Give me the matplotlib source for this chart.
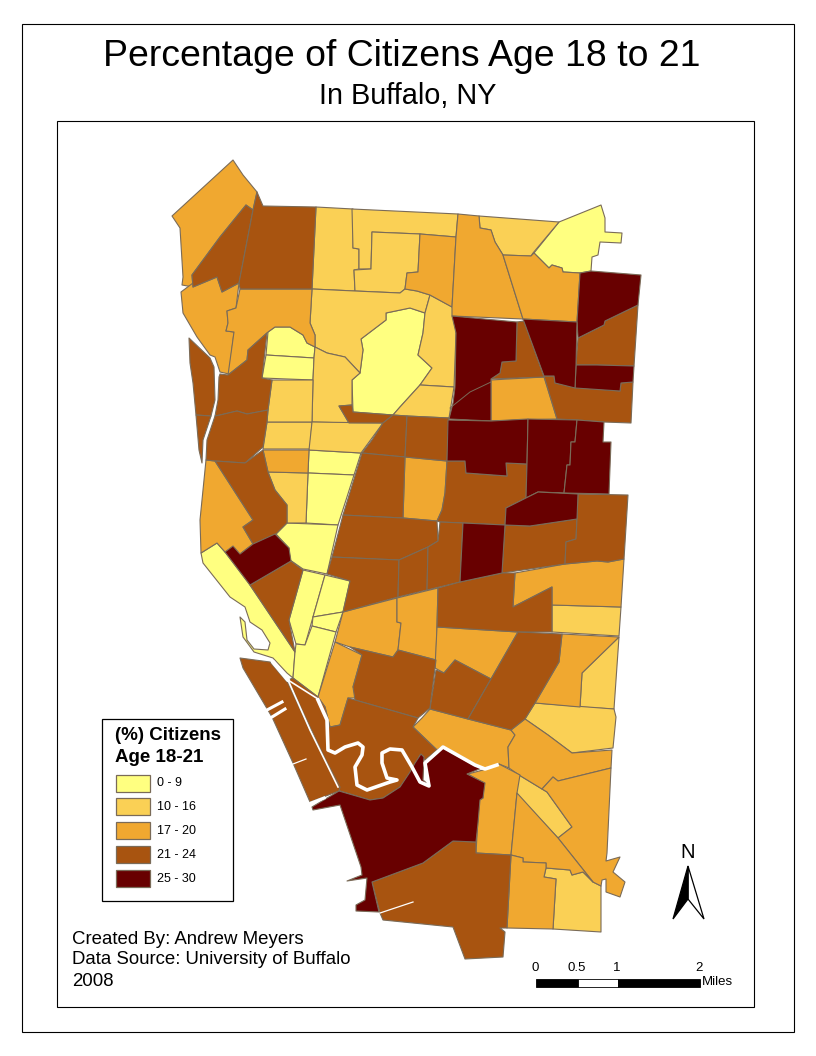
import matplotlib
matplotlib.use("Agg")
import matplotlib.pyplot as plt
from matplotlib.patches import Polygon, Rectangle

plt.rcParams['font.family'] = ['Liberation Sans', 'DejaVu Sans']

# legend classes
class_labels = ['0 - 9', '10 - 16', '17 - 20', '21 - 24', '25 - 30']
class_colors = ['#FFFF80', '#FAD055', '#F0A830', '#A85410', '#680000']
edge_color = '#7A6B58'

yellow_tracts = [
    [(268,332),(275,327),(290,327),(303,335),(307,343),(315,347),(314,358),(266,355)],
    [(266,355),(314,358),(313,380),(262,378)],
    [(386,313),(410,308),(425,313),(423,333),(418,355),(432,368),(420,385),(400,407),(393,415),(353,412),
     (352,380),(360,373),(363,350),(361,339),(386,320)],
    [(309,450),(361,453),(354,475),(308,473)],
    [(308,473),(354,475),(338,525),(306,523)],
    [(201,553),(217,543),(225,552),(250,585),(295,652),(293,678),(287,673),(273,658),(254,652),(243,637),
     (240,617),(245,622),(247,640),(254,649),(268,650),(270,643),(262,630),(250,622),(245,607),(230,597),(203,563)],
    [(276,534),(287,523),(338,525),(327,574),(303,569),(290,560),(289,548)],
    [(303,570),(325,575),(313,617),(305,645),(296,644),(289,620)],
    [(325,575),(350,581),(343,612),(313,617)],
    [(313,617),(343,612),(336,632),(312,626)],
    [(312,626),(336,632),(318,697),(293,678),(295,652),(296,644),(305,645)],
    [(559,222),(601,205),(605,218),(605,232),(622,233),(621,243),(600,242),(598,255),(592,257),(591,271),
     (580,273),(563,272),(562,268),(552,265),(549,268),(534,253)],
]
light_tracts = [
    [(316,207),(353,209),(353,248),(359,249),(359,269),(354,270),(355,291),(312,289)],
    [(352,209),(458,214),(456,237),(420,234),(372,232),(371,269),(359,269),(359,249),(353,248)],
    [(372,232),(420,234),(418,272),(407,273),(405,289),(400,293),(355,291),(354,270),(371,269)],
    [(312,289),(355,291),(400,293),(405,289),(417,291),(430,295),(425,313),(410,308),(386,313),(386,320),
     (361,339),(363,350),(360,373),(345,357),(327,353),(315,347),(315,335),(310,323)],
    [(315,347),(327,353),(345,357),(360,373),(352,380),(352,405),(339,406),(349,423),(312,422),(313,380),(314,358)],
    [(430,295),(454,308),(456,333),(454,387),(420,385),(432,368),(418,355),(423,333),(425,313)],
    [(420,385),(454,387),(449,418),(407,416),(393,415),(400,407)],
    [(267,422),(312,422),(310,449),(263,449)],
    [(272,380),(313,380),(312,422),(267,422),(268,410)],
    [(312,422),(383,423),(361,453),(309,450)],
    [(268,472),(308,473),(306,523),(287,523),(287,505),(275,490)],
    [(479,216),(559,222),(533,253),(531,256),(503,255),(495,242),(491,230),(480,228)],
    [(552,605),(621,607),(619,636),(552,632)],
    [(619,637),(614,709),(580,707),(582,673)],
    [(535,703),(614,709),(616,717),(613,748),(572,753),(548,735),(525,719)],
    [(519,775),(542,789),(547,792),(572,827),(558,838),(516,793)],
    [(546,868),(570,870),(572,875),(583,872),(593,882),(601,886),(601,932),(553,929),(556,879),(544,877)],
]
orange_tracts = [
    [(233,160),(243,175),(257,192),(253,210),(246,205),(220,237),(192,275),(193,287),(182,285),(183,277),(180,228),(172,216)],
    [(181,292),(193,283),(193,287),(217,277),(222,292),(239,283),(236,308),(227,311),(228,323),(226,331),(234,332),
     (229,374),(220,372),(215,357),(210,355),(197,337),(183,313)],
    [(240,289),(312,289),(310,323),(315,335),(315,347),(307,343),(303,335),(290,327),(275,327),(268,332),(248,350),
     (247,360),(228,375),(234,332),(226,331),(228,323),(227,311),(236,308)],
    [(420,234),(456,237),(452,307),(430,295),(417,291),(405,289),(407,273),(418,272)],
    [(458,214),(479,216),(480,228),(491,230),(495,242),(503,255),(523,319),(452,316),(452,307),(456,237)],
    [(503,255),(531,256),(534,253),(549,268),(552,265),(562,268),(563,272),(580,273),(577,322),(523,319)],
    [(491,380),(544,377),(557,419),(491,421)],
    [(405,457),(447,461),(445,493),(442,510),(437,521),(403,518)],
    [(263,450),(309,450),(308,473),(268,472)],
    [(206,460),(215,461),(253,520),(243,527),(253,544),(240,554),(225,552),(217,543),(201,553),(200,520)],
    [(343,612),(397,598),(397,622),(401,623),(398,650),(393,657),(350,647),(335,642)],
    [(397,598),(438,588),(436,660),(398,650),(401,623),(397,622)],
    [(335,642),(362,655),(353,687),(358,690),(357,698),(348,698),(340,725),(330,727),(325,707),(318,697)],
    [(437,627),(518,632),(491,679),(455,660),(444,673),(435,668)],
    [(515,573),(565,564),(597,561),(608,562),(624,559),(621,607),(552,605),(552,587),(513,607)],
    [(562,634),(619,637),(582,673),(580,707),(535,703),(559,662)],
    [(413,727),(422,718),(430,709),(468,719),(511,730),(515,735),(508,747),(509,768),(499,764),(487,770),(473,763),(443,746),(437,750)],
    [(525,719),(548,735),(572,753),(612,750),(611,768),(558,781),(553,777),(542,789),(519,775),(509,768),(508,747),(515,735),(511,730)],
    [(476,853),(511,855),(517,793),(520,775),(499,764),(483,770),(468,774),(483,783),(483,798),(479,800)],
    [(542,789),(553,777),(558,781),(611,768),(607,853),(606,861),(620,857),(613,872),(625,882),(620,897),(606,892),
     (606,879),(602,880),(601,886),(593,882),(558,838),(572,827),(547,792)],
    [(517,793),(558,838),(593,882),(583,872),(572,875),(570,870),(546,868),(546,863),(523,862),(523,858),(511,855)],
    [(511,855),(523,858),(523,862),(546,863),(546,868),(544,877),(556,879),(553,929),(507,928)],
]
brown_tracts = [
    [(246,205),(253,210),(239,283),(222,292),(217,277),(193,287),(192,275),(220,237)],
    [(257,192),(263,206),(316,207),(312,289),(240,289),(239,283),(253,210)],
    [(189,338),(210,358),(214,367),(215,400),(211,416),(196,415),(193,383),(190,363)],
    [(196,415),(211,416),(203,440),(202,463),(199,450)],
    [(220,374),(228,375),(247,360),(248,350),(267,333),(262,378),(272,380),(268,410),(247,414),(237,411),(220,415),(215,416),(218,400),(219,377)],
    [(215,416),(220,415),(237,411),(247,414),(268,410),(267,422),(263,447),(245,463),(215,461),(206,460),(207,440)],
    [(215,461),(245,463),(263,450),(268,472),(275,490),(287,505),(287,523),(276,534),(253,544),(243,527),(253,520)],
    [(339,406),(352,405),(353,412),(393,415),(383,423),(349,423)],
    [(393,415),(407,416),(405,457),(362,453),(372,440),(383,423)],
    [(407,416),(449,418),(447,461),(405,457)],
    [(250,585),(291,561),(303,570),(289,620),(295,652)],
    [(362,453),(405,457),(403,518),(343,515)],
    [(343,515),(403,518),(437,521),(438,541),(428,547),(399,560),(332,557)],
    [(332,557),(399,560),(398,597),(343,612),(350,581),(327,574)],
    [(399,560),(428,547),(427,590),(398,597)],
    [(447,461),(465,461),(466,473),(507,476),(506,463),(527,464),(526,498),(506,508),(505,525),(463,523),(440,522),(437,521),(442,510),(445,493)],
    [(440,522),(463,523),(460,582),(427,590),(428,547),(438,541)],
    [(505,525),(530,526),(577,519),(576,539),(566,542),(565,564),(502,573)],
    [(578,494),(628,495),(624,559),(608,562),(597,561),(565,564),(566,542),(576,539),(577,519)],
    [(502,573),(515,573),(513,607),(552,587),(552,632),(518,632),(437,627),(438,588),(460,582)],
    [(350,647),(393,657),(398,650),(436,660),(430,708),(418,718),(355,700),(353,687),(362,655)],
    [(430,709),(436,670),(444,673),(455,660),(491,679),(468,719)],
    [(518,632),(562,634),(559,662),(535,703),(525,719),(511,730),(468,719),(491,679)],
    [(578,338),(604,325),(605,321),(638,305),(634,366),(597,365),(576,365)],
    [(544,376),(554,376),(555,383),(574,387),(620,391),(621,383),(633,382),(631,423),(604,422),(577,420),(557,419)],
    [(524,321),(517,322),(516,361),(502,362),(500,373),(491,379),(544,377)],
    [(288,680),(293,678),(318,697),(325,707),(330,727),(340,725),(348,698),(355,700),(418,718),(413,727),(437,750),(425,760),
     (420,755),(412,772),(400,787),(383,798),(370,800),(340,791)],
    [(240,658),(270,662),(288,683),(310,730),(340,787),(339,791),(310,802),(293,763),(272,717),(243,668)],
    [(372,882),(423,863),(453,841),(476,842),(476,853),(511,855),(507,928),(500,928),(505,932),(503,957),(465,959),(453,927),(383,920),(380,913)],
]
dark_tracts = [
    [(580,273),(591,271),(641,275),(638,305),(605,321),(604,325),(578,338),(577,322)],
    [(576,365),(597,365),(634,366),(633,382),(621,383),(620,391),(575,388)],
    [(523,319),(577,322),(576,365),(575,388),(555,383),(554,376),(544,376)],
    [(452,316),(517,322),(516,361),(502,362),(500,373),(491,379),(491,421),(449,419),(453,403),(455,387),(456,333)],
    [(448,420),(491,421),(528,419),(527,464),(506,463),(507,476),(466,473),(465,461),(447,461)],
    [(528,419),(577,420),(575,442),(571,442),(570,465),(567,465),(564,493),(538,492),(526,498),(527,464)],
    [(577,420),(604,422),(603,442),(611,442),(609,494),(564,493),(567,465),(570,465),(571,442),(575,442)],
    [(506,508),(526,498),(538,492),(578,494),(577,519),(530,526),(505,525)],
    [(463,523),(505,525),(502,573),(460,582)],
    [(225,552),(233,546),(240,554),(253,544),(275,534),(289,548),(291,561),(250,585)],
    [(339,791),(370,800),(383,798),(400,787),(410,772),(415,763),(421,754),(424,757),(423,780),(430,786),(424,762),(443,748),
     (473,765),(482,768),(467,774),(485,783),(483,798),(480,800),(478,823),(476,842),(453,841),(423,863),(372,882),(379,912),
     (356,911),(356,905),(365,900),(367,878),(347,881),(362,875),(361,867),(340,805),(313,810),(312,807)],
]
tract_classes = [yellow_tracts, light_tracts, orange_tracts, brown_tracts, dark_tracts]

# water cut through the tracts
river_main = [(273,662),(288,680)]
river_thin = [(288,680),(318,699)]
river_channel = [(288,680),(310,730),(338,787)]
river_loop = [(318,700),(327,720),(328,750),(335,753),(345,747),(358,743),(363,747),(362,755),(355,767),(357,785),(367,790),
              (390,782),(397,780),(387,778),(382,763),(382,753),(390,749),(402,750),(412,767),(420,782),(429,786),(425,763),
              (443,747),(475,765),(485,769),(497,765)]
dock_slips = [[(267,710),(282,702)],[(272,717),(285,709)],[(311,803),(324,798)]]
thin_slips = [[(293,764),(306,759)],[(380,913),(413,902)]]
tract_line = [(450,408),(470,392),(491,382)]

fig = plt.figure(figsize=(8.16, 10.56), dpi=100)
ax = fig.add_axes([0, 0, 1, 1])
ax.set_xlim(0, 816)
ax.set_ylim(1056, 0)
ax.axis('off')

# page and map frames
ax.add_patch(Rectangle((22, 24), 772, 1008, fc='none', ec='black', lw=0.8))
ax.add_patch(Rectangle((57, 121), 697, 886, fc='none', ec='black', lw=0.8))

ax.text(402, 56, 'Percentage of Citizens Age 18 to 21', ha='center', va='center', fontsize=26.9)
ax.text(408, 96, 'In Buffalo, NY', ha='center', va='center', fontsize=20.8)

# tracts
for tracts, color in zip(tract_classes, class_colors):
    for pts in tracts:
        ax.add_patch(Polygon(pts, closed=True, fc=color, ec=edge_color, lw=0.8, joinstyle='round'))
ax.plot(*zip(*tract_line), color=edge_color, lw=0.7)

# river and docks on top
ax.plot(*zip(*river_main), color='white', lw=3, solid_capstyle='round')
ax.plot(*zip(*river_thin), color='white', lw=1.2)
ax.plot(*zip(*river_channel), color='white', lw=1.2)
ax.plot(*zip(*river_loop), color='white', lw=2.6, solid_joinstyle='round')
for slip in dock_slips:
    ax.plot(*zip(*slip), color='white', lw=2.2)
for slip in thin_slips:
    ax.plot(*zip(*slip), color='white', lw=0.9)

# legend
ax.add_patch(Rectangle((102, 719), 131, 182, fc='white', ec='black', lw=0.9))
ax.text(115, 736, '(%) Citizens', fontsize=13.5, fontweight='bold', va='center')
ax.text(115, 758, 'Age 18-21', fontsize=13.5, fontweight='bold', va='center')
swatch_tops = [775, 798, 822, 846, 870]
for top, color, label in zip(swatch_tops, class_colors, class_labels):
    ax.add_patch(Rectangle((115.5, top), 34.5, 17, fc=color, ec=edge_color, lw=0.9))
    ax.text(157, top + 8.5, label, fontsize=9, va='center')

# credits
ax.text(72, 939, 'Created By: Andrew Meyers', fontsize=13.4, va='center')
ax.text(72, 960, 'Data Source: University of Buffalo', fontsize=13.4, va='center')
ax.text(72, 982, '2008', fontsize=13.4, va='center')

# scale bar
scale_ticks = ['0', '0.5', '1', '2']
scale_x = [536, 578, 618, 700]
ax.add_patch(Rectangle((536, 979), 42, 8, fc='black', ec='black', lw=0.6))
ax.add_patch(Rectangle((578, 979), 40, 8, fc='white', ec='black', lw=0.6))
ax.add_patch(Rectangle((618, 979), 82, 8, fc='black', ec='black', lw=0.6))
for x, label in zip(scale_x, scale_ticks):
    ax.text(x - 1, 968, label, ha='center', va='center', fontsize=9.5)
ax.text(702, 982, 'Miles', fontsize=9.5, va='center')

# north arrow
ax.text(688, 853, 'N', ha='center', va='center', fontsize=14.5)
ax.add_patch(Polygon([(688,866),(704,919),(688,899)], closed=True, fc='white', ec='black', lw=0.9))
ax.add_patch(Polygon([(688,866),(673,919),(688,899)], closed=True, fc='black', ec='black', lw=0.9))

fig.savefig('out.png', dpi=100)
